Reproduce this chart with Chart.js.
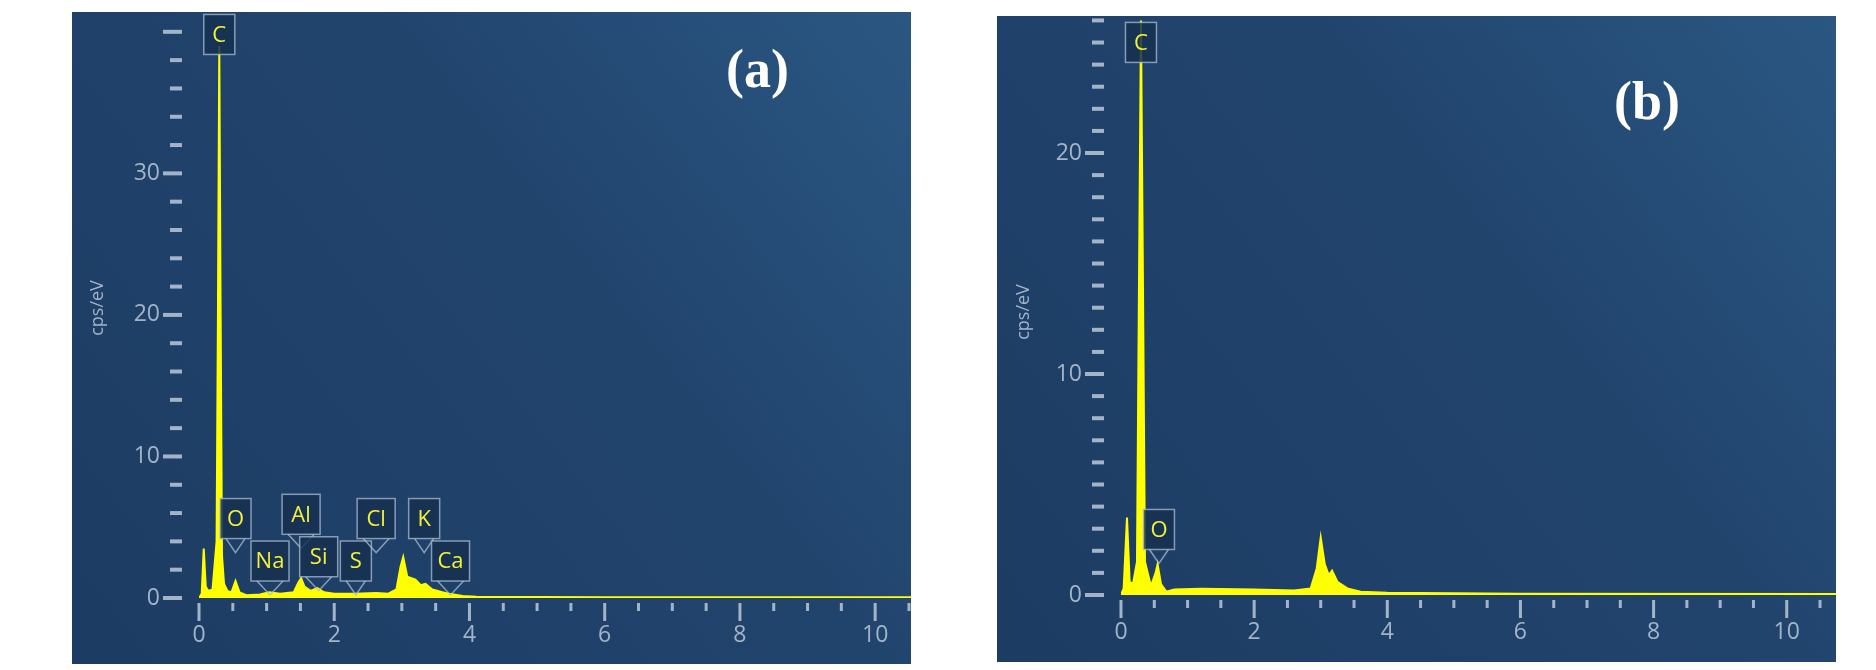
<!DOCTYPE html>
<html>
<head>
<meta charset="utf-8">
<script src="https://cdn.jsdelivr.net/npm/chart.js@4/dist/chart.umd.min.js"></script>
<style>
  body { margin: 0; background: #fff; width: 1876px; height: 670px; position: relative; overflow: hidden; }
  canvas { position: absolute; }
  #ca { left: 72px; top: 12px; }
  #cb { left: 997px; top: 16px; }
  .tag { position: absolute; color: #fff; font: bold 54px "Liberation Serif", "Times New Roman", serif; }
</style>
</head>
<body>
<canvas id="ca" width="839" height="652"></canvas>
<canvas id="cb" width="839" height="646"></canvas>
<div class="tag" style="left:726px;top:38px">(a)</div>
<div class="tag" style="left:1614px;top:70px">(b)</div>
<script>
// spectrum (a)
var energyA = [0, 0.04, 0.07, 0.1, 0.14, 0.2, 0.26, 0.28, 0.3, 0.32, 0.34, 0.37, 0.42, 0.48, 0.54, 0.6, 0.7, 0.9, 1.04, 1.2, 1.4, 1.47, 1.51, 1.56, 1.65, 1.75, 1.85, 2.0, 2.3, 2.62, 2.8, 2.92, 2.98, 3.02, 3.08, 3.2, 3.28, 3.35, 3.45, 3.6, 3.7, 3.9, 4.1, 6, 10.6];
var countsA = [0, 0.3, 3.5, 0.8, 0.5, 0.6, 4, 20, 39, 20, 3, 1.0, 0.5, 0.4, 1.2, 0.4, 0.2, 0.25, 0.4, 0.3, 0.4, 1.1, 1.4, 0.8, 0.5, 0.7, 0.4, 0.3, 0.3, 0.35, 0.3, 0.6, 2.2, 2.9, 1.5, 1.3, 0.9, 1.0, 0.6, 0.4, 0.3, 0.15, 0.08, 0.06, 0.05];
var elemA = ['C', 'O', 'Na', 'Al', 'Si', 'S', 'Cl', 'K', 'Ca'];
var elemXA = [0.3, 0.54, 1.05, 1.51, 1.77, 2.32, 2.62, 3.33, 3.72];
var elemYA = [38.4, 4.2, 1.2, 4.5, 1.5, 1.2, 4.2, 4.2, 1.2];

// spectrum (b)
var energyB = [0, 0.04, 0.09, 0.13, 0.18, 0.24, 0.27, 0.3, 0.33, 0.36, 0.45, 0.52, 0.55, 0.6, 0.68, 0.8, 1.2, 2.0, 2.6, 2.85, 2.94, 3.0, 3.06, 3.12, 3.17, 3.25, 3.4, 3.6, 4.0, 6, 10.8];
var countsB = [0, 0.3, 3.5, 0.6, 0.5, 1.5, 14, 26, 14, 1.5, 0.4, 1.0, 1.4, 0.5, 0.15, 0.25, 0.28, 0.25, 0.2, 0.3, 1.2, 2.6, 1.4, 0.9, 1.1, 0.6, 0.3, 0.15, 0.1, 0.06, 0.05];
var elemB = ['C', 'O'];
var elemXB = [0.3, 0.57];
var elemYB = [24.1, 2.06];

var tickColor = '#a3b4c9';

var panelPlugin = {
  id: 'panel',
  beforeDraw: function (chart) {
    var c = chart.ctx, w = chart.width, h = chart.height;
    var g = c.createLinearGradient(0, h, w, 0);
    g.addColorStop(0, '#1d3c63');
    g.addColorStop(0.6, '#21446d');
    g.addColorStop(1, '#2a5782');
    c.save();
    c.fillStyle = g;
    c.fillRect(0, 0, w, h);
    c.restore();
  },
  afterDraw: function (chart, args, o) {
    var c = chart.ctx, xs = chart.scales.x, ys = chart.scales.y;
    var x0 = xs.getPixelForValue(0), y0 = ys.getPixelForValue(0);
    c.save();
    c.strokeStyle = tickColor;
    c.fillStyle = tickColor;
    c.font = '23px "Open Sans", sans-serif';
    // y ticks
    c.lineWidth = 4;
    c.textAlign = 'right';
    c.textBaseline = 'middle';
    for (var v = 0; v <= ys.max; v += o.yStep) {
      var py = ys.getPixelForValue(v);
      var major = Math.abs(v % 10) < 1e-6;
      c.beginPath();
      c.moveTo(x0 - (major ? 36 : 29), py);
      c.lineTo(x0 - 17, py);
      c.stroke();
      if (major && v < ys.max - 3) c.fillText(String(v), x0 - 39, py);
    }
    // x ticks
    c.lineWidth = 3;
    c.textAlign = 'center';
    c.textBaseline = 'top';
    for (var e = 0; e <= xs.max; e += 0.5) {
      var px = xs.getPixelForValue(e);
      var majorX = Math.abs(e % 2) < 1e-6;
      c.beginPath();
      c.moveTo(px, y0 + 5);
      c.lineTo(px, y0 + (majorX ? 23 : 13));
      c.stroke();
      if (majorX) c.fillText(String(e), px, y0 + 26);
    }
    // axis title
    c.translate(o.titleX, o.titleY);
    c.rotate(-Math.PI / 2);
    c.textAlign = 'center';
    c.textBaseline = 'middle';
    c.font = '18px "Open Sans", sans-serif';
    c.fillText('cps/eV', 0, 0);
    c.restore();

    // element markers
    c.save();
    c.font = '22px "Open Sans", sans-serif';
    c.textAlign = 'center';
    c.textBaseline = 'middle';
    for (var i = 0; i < o.names.length; i++) {
      var bx = xs.getPixelForValue(o.ex[i]);
      var by = ys.getPixelForValue(o.ey[i]);
      var bw = o.names[i].length > 1 ? 38 : 31, bh = 40;
      c.strokeStyle = 'rgba(170,190,210,0.75)';
      c.lineWidth = 1.5;
      c.fillStyle = 'rgba(22,48,80,0.85)';
      c.fillRect(bx - bw / 2, by - bh, bw, bh);
      c.strokeRect(bx - bw / 2, by - bh, bw, bh);
      if (i > 0 || o.names[i] !== 'C') {
        c.beginPath();
        c.moveTo(bx - bw / 2 + 6, by);
        c.lineTo(bx, by + 14);
        c.lineTo(bx + bw / 2 - 6, by);
        c.stroke();
      }
      c.fillStyle = '#f2f23a';
      c.fillText(o.names[i], bx, by - bh / 2 + 1);
    }
    c.restore();
  }
};

function pts(xs, ys) {
  return xs.map(function (x, i) { return { x: x, y: ys[i] }; });
}

function makeChart(id, xsArr, ysArr, xMax, yMax, padLeft, padBottom, opts) {
  return new Chart(document.getElementById(id), {
    type: 'line',
    data: {
      datasets: [{
        data: pts(xsArr, ysArr),
        borderColor: '#ffff00',
        backgroundColor: '#ffff00',
        borderWidth: 2,
        pointRadius: 0,
        tension: 0,
        fill: 'origin'
      }]
    },
    options: {
      responsive: false,
      animation: false,
      layout: { padding: { left: padLeft, bottom: padBottom, top: 0, right: 0 } },
      plugins: { legend: { display: false }, tooltip: { enabled: false }, panel: opts },
      scales: {
        x: { type: 'linear', min: 0, max: xMax, display: false },
        y: { min: 0, max: yMax, display: false }
      }
    },
    plugins: [panelPlugin]
  });
}

makeChart('ca', energyA, countsA, 10.53, 41.4, 127, 66,
  { yStep: 2, titleX: 26, titleY: 296, names: elemA, ex: elemXA, ey: elemYA });
makeChart('cb', energyB, countsB, 10.74, 26.2, 124, 67,
  { yStep: 1, titleX: 27, titleY: 296, names: elemB, ex: elemXB, ey: elemYB });
</script>
</body>
</html>
